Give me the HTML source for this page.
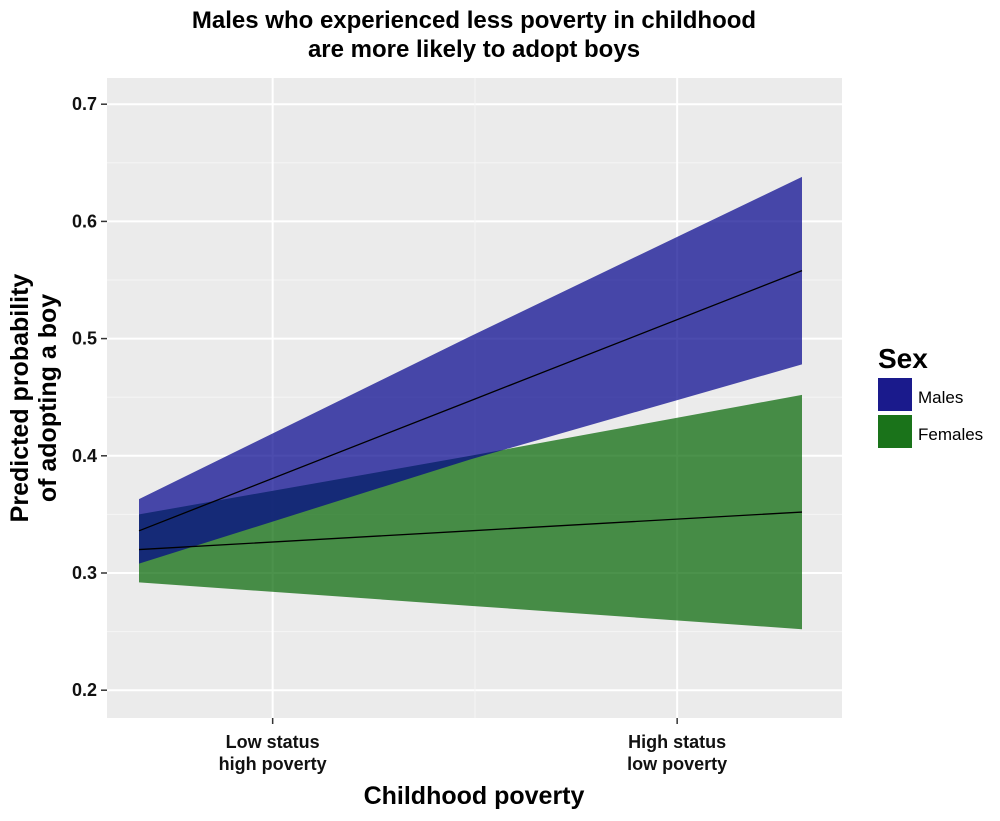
<!DOCTYPE html>
<html><head><meta charset="utf-8"><style>
body{margin:0;background:#fff;font-family:"Liberation Sans",sans-serif}
</style></head><body>
<svg id="chart" width="1000" height="816" xmlns="http://www.w3.org/2000/svg" font-family="Liberation Sans, sans-serif">
<text x="474" y="28" text-anchor="middle" font-size="24" font-weight="bold" fill="#000">Males who experienced less poverty in childhood</text>
<text x="474" y="57" text-anchor="middle" font-size="24" font-weight="bold" fill="#000">are more likely to adopt boys</text>
<rect x="107" y="78" width="735" height="640" fill="#ebebeb"/>
<g id="grid"></g>
<g id="marks"></g>
<g id="axes"></g>
<text x="474" y="804" text-anchor="middle" font-size="25" font-weight="bold">Childhood poverty</text>
<text transform="translate(28,398) rotate(-90)" text-anchor="middle" font-size="25" font-weight="bold">Predicted probability</text>
<text transform="translate(56,398) rotate(-90)" text-anchor="middle" font-size="25" font-weight="bold">of adopting a boy</text>
<g>
<text x="878" y="368" font-size="28" font-weight="bold">Sex</text>
<rect x="878" y="378" width="34" height="33" fill="#1a1a8c"/>
<text x="918" y="403" font-size="17">Males</text>
<rect x="878" y="415" width="34" height="33" fill="#1a731a"/>
<text x="918" y="440" font-size="17">Females</text>
</g>
</svg>
<script>
const xs = [0, 0.5, 1];
const malesUpper = [0.363, 0.502, 0.638];
const malesLower = [0.308, 0.397, 0.478];
const malesFit = [0.336, 0.447, 0.558];
const femalesUpper = [0.350, 0.400, 0.452];
const femalesLower = [0.292, 0.272, 0.252];
const femalesFit = [0.320, 0.336, 0.352];
const yTicks = [0.2, 0.3, 0.4, 0.5, 0.6, 0.7];
const xTickVals = [0.2016, 0.8117];
const xTickLabels = [["Low status","high poverty"],["High status","low poverty"]];

const NS = "http://www.w3.org/2000/svg";
const X = v => 139 + v * 663;
const Y = v => 573 - (v - 0.3) * 1172;
function mk(tag, attrs, parent){const e=document.createElementNS(NS,tag);for(const k in attrs)e.setAttribute(k,attrs[k]);parent.appendChild(e);return e;}
const grid=document.getElementById('grid'), marks=document.getElementById('marks'), axes=document.getElementById('axes');

for(let i=0;i<yTicks.length-1;i++){
  const l=mk('line',{x1:107,x2:842,y1:Y((yTicks[i]+yTicks[i+1])/2),y2:Y((yTicks[i]+yTicks[i+1])/2),stroke:'#f5f5f5','stroke-width':1},grid);
  
  
}
yTicks.forEach(t=>{
  const l=mk('line',{x1:107,x2:842,y1:Y(t),y2:Y(t),stroke:'#fff','stroke-width':2},grid);
  
  
  const tk=mk('line',{x1:101,x2:107,y1:Y(t),y2:Y(t),stroke:'#333','stroke-width':1.5},axes);
  
  
  const tx=mk('text',{x:97,y:Y(t)+6,'text-anchor':'end','font-size':18,'font-weight':'bold',fill:'#111'},axes);
  tx.textContent=t.toFixed(1);
  
  
});
{
  const mx=X((xTickVals[0]+xTickVals[1])/2);
  const l=mk('line',{x1:mx,x2:mx,y1:78,y2:718,stroke:'#f5f5f5','stroke-width':1},grid);
  
  
}
xTickVals.forEach((t,i)=>{
  const l=mk('line',{x1:X(t),x2:X(t),y1:78,y2:718,stroke:'#fff','stroke-width':2},grid);
  
  
  const tk=mk('line',{x1:X(t),x2:X(t),y1:718,y2:724,stroke:'#333','stroke-width':1.5},axes);
  
  
  xTickLabels[i].forEach((s,j)=>{
    const tx=mk('text',{x:X(t),y:748+j*22,'text-anchor':'middle','font-size':18,'font-weight':'bold',fill:'#111'},axes);
    tx.textContent=s;
    
    
  });
});
function band(up,lo,color,name){
  let d='M'+xs.map((x,i)=>X(x)+','+Y(up[i])).join(' L');
  d+=' L'+xs.slice().reverse().map((x,k)=>X(x)+','+Y(lo[xs.length-1-k])).join(' L')+' Z';
  const p=mk('path',{d:d,fill:color,'fill-opacity':0.7},marks);
  
  
}
function line(v,name){
  const p=mk('polyline',{points:xs.map((x,i)=>X(x)+','+Y(v[i])).join(' '),fill:'none',stroke:'#000','stroke-width':1.3},marks);
  
  
}
band(femalesUpper,femalesLower,'#006400','females-ci-band');
band(malesUpper,malesLower,'#00008b','males-ci-band');
line(malesFit,'males-fit-line');
line(femalesFit,'females-fit-line');
</script>
</body></html>
